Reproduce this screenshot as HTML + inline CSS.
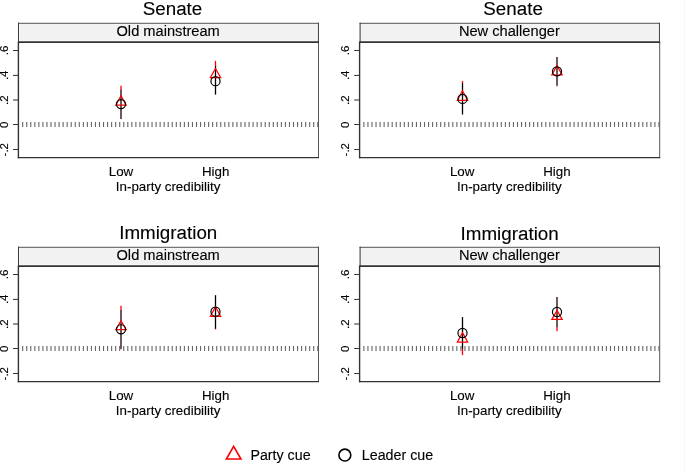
<!DOCTYPE html>
<html><head><meta charset="utf-8"><title>Party cue vs Leader cue</title>
<style>
html,body{margin:0;padding:0;background:#fff;width:685px;height:472px;overflow:hidden}
svg{display:block}
text{font-family:"Liberation Sans", Arial, Helvetica, sans-serif;fill:#000;stroke:#000;stroke-width:0.12px}
.ttl{font-size:18.8px;text-anchor:middle;fill:#000}
.strip{font-size:14.65px;text-anchor:middle}
.xl{font-size:13.35px;text-anchor:middle}
.yl{font-size:11.5px;text-anchor:middle}
.lg{font-size:14.25px}
</style></head><body>
<svg width="685" height="472" viewBox="0 0 685 472">
<rect width="685" height="472" fill="#fff"/>
<rect x="684" y="0" width="1" height="472" fill="#f8f8f8"/>
<text x="172.5" y="14.8" class="ttl">Senate</text>
<rect x="19.4" y="24.2" width="298.15" height="16.5" fill="#f2f2f2"/>
<line x1="18" y1="23.25" x2="318.95" y2="23.25" stroke="#747474" stroke-width="1.25"/>
<line x1="18.5" y1="22.65" x2="18.5" y2="42" stroke="#3a3a3a" stroke-width="1.05"/>
<line x1="318.45" y1="22.65" x2="318.45" y2="42" stroke="#444" stroke-width="1.05"/>
<text x="168.15" y="36.3" class="strip">Old mainstream</text>
<line x1="318.5" y1="42" x2="318.5" y2="157.7" stroke="#555" stroke-width="1"/>
<line x1="17.9" y1="42.15" x2="319" y2="42.15" stroke="#333" stroke-width="1.6"/>
<line x1="17.8" y1="157.7" x2="319" y2="157.7" stroke="#333" stroke-width="1.3"/>
<line x1="18.4" y1="42" x2="18.4" y2="158.3" stroke="#333" stroke-width="1.4"/>
<line x1="13" y1="50.5" x2="18.4" y2="50.5" stroke="#333" stroke-width="1.05"/>
<text transform="translate(7.95,50.5) rotate(-90)" class="yl">.6</text>
<line x1="13" y1="75.4" x2="18.4" y2="75.4" stroke="#333" stroke-width="1.05"/>
<text transform="translate(7.95,75.3) rotate(-90)" class="yl">.4</text>
<line x1="13" y1="100" x2="18.4" y2="100" stroke="#333" stroke-width="1.05"/>
<text transform="translate(7.95,100.1) rotate(-90)" class="yl">.2</text>
<line x1="13" y1="124.5" x2="18.4" y2="124.5" stroke="#333" stroke-width="1.05"/>
<text transform="translate(7.95,124.9) rotate(-90)" class="yl">0</text>
<line x1="13" y1="149.5" x2="18.4" y2="149.5" stroke="#333" stroke-width="1.05"/>
<text transform="translate(7.95,149.7) rotate(-90)" class="yl">-.2</text>
<path d="M22.7 122v5M26.74 122v5M30.78 122v5M34.83 122v5M38.87 122v5M42.91 122v5M46.95 122v5M50.99 122v5M55.04 122v5M59.08 122v5M63.12 122v5M67.16 122v5M71.2 122v5M75.25 122v5M79.29 122v5M83.33 122v5M87.37 122v5M91.41 122v5M95.46 122v5M99.5 122v5M103.54 122v5M107.58 122v5M111.62 122v5M115.67 122v5M119.71 122v5M123.75 122v5M127.79 122v5M131.83 122v5M135.88 122v5M139.92 122v5M143.96 122v5M148 122v5M152.04 122v5M156.09 122v5M160.13 122v5M164.17 122v5M168.21 122v5M172.25 122v5M176.3 122v5M180.34 122v5M184.38 122v5M188.42 122v5M192.46 122v5M196.51 122v5M200.55 122v5M204.59 122v5M208.63 122v5M212.67 122v5M216.72 122v5M220.76 122v5M224.8 122v5M228.84 122v5M232.88 122v5M236.93 122v5M240.97 122v5M245.01 122v5M249.05 122v5M253.09 122v5M257.14 122v5M261.18 122v5M265.22 122v5M269.26 122v5M273.3 122v5M277.35 122v5M281.39 122v5M285.43 122v5M289.47 122v5M293.51 122v5M297.56 122v5M301.6 122v5M305.64 122v5M309.68 122v5M313.72 122v5M317.77 122v5" stroke="#666" stroke-width="1.1" fill="none"/>
<text x="121" y="176.2" class="xl">Low</text>
<text x="215.7" y="176.2" class="xl">High</text>
<text x="168.1" y="190.5" class="xl">In-party credibility</text>
<text x="513.1" y="15.2" class="ttl">Senate</text>
<rect x="361" y="24.2" width="297.55" height="16.5" fill="#f2f2f2"/>
<line x1="359.6" y1="23.25" x2="659.95" y2="23.25" stroke="#747474" stroke-width="1.25"/>
<line x1="360.1" y1="22.65" x2="360.1" y2="42" stroke="#3a3a3a" stroke-width="1.05"/>
<line x1="659.45" y1="22.65" x2="659.45" y2="42" stroke="#444" stroke-width="1.05"/>
<text x="509.35" y="36.3" class="strip">New challenger</text>
<line x1="659.7" y1="42" x2="659.7" y2="157.7" stroke="#555" stroke-width="1"/>
<line x1="359.1" y1="42.15" x2="660.2" y2="42.15" stroke="#333" stroke-width="1.6"/>
<line x1="359" y1="157.7" x2="660.2" y2="157.7" stroke="#333" stroke-width="1.3"/>
<line x1="359.6" y1="42" x2="359.6" y2="158.3" stroke="#333" stroke-width="1.4"/>
<line x1="354.2" y1="50.5" x2="359.6" y2="50.5" stroke="#333" stroke-width="1.05"/>
<text transform="translate(349.15,50.5) rotate(-90)" class="yl">.6</text>
<line x1="354.2" y1="75.4" x2="359.6" y2="75.4" stroke="#333" stroke-width="1.05"/>
<text transform="translate(349.15,75.3) rotate(-90)" class="yl">.4</text>
<line x1="354.2" y1="100" x2="359.6" y2="100" stroke="#333" stroke-width="1.05"/>
<text transform="translate(349.15,100.1) rotate(-90)" class="yl">.2</text>
<line x1="354.2" y1="124.5" x2="359.6" y2="124.5" stroke="#333" stroke-width="1.05"/>
<text transform="translate(349.15,124.9) rotate(-90)" class="yl">0</text>
<line x1="354.2" y1="149.5" x2="359.6" y2="149.5" stroke="#333" stroke-width="1.05"/>
<text transform="translate(349.15,149.7) rotate(-90)" class="yl">-.2</text>
<path d="M363.9 122v5M367.94 122v5M371.98 122v5M376.03 122v5M380.07 122v5M384.11 122v5M388.15 122v5M392.19 122v5M396.24 122v5M400.28 122v5M404.32 122v5M408.36 122v5M412.4 122v5M416.45 122v5M420.49 122v5M424.53 122v5M428.57 122v5M432.61 122v5M436.66 122v5M440.7 122v5M444.74 122v5M448.78 122v5M452.82 122v5M456.87 122v5M460.91 122v5M464.95 122v5M468.99 122v5M473.03 122v5M477.08 122v5M481.12 122v5M485.16 122v5M489.2 122v5M493.24 122v5M497.29 122v5M501.33 122v5M505.37 122v5M509.41 122v5M513.45 122v5M517.5 122v5M521.54 122v5M525.58 122v5M529.62 122v5M533.66 122v5M537.71 122v5M541.75 122v5M545.79 122v5M549.83 122v5M553.87 122v5M557.92 122v5M561.96 122v5M566 122v5M570.04 122v5M574.08 122v5M578.13 122v5M582.17 122v5M586.21 122v5M590.25 122v5M594.29 122v5M598.34 122v5M602.38 122v5M606.42 122v5M610.46 122v5M614.5 122v5M618.55 122v5M622.59 122v5M626.63 122v5M630.67 122v5M634.71 122v5M638.76 122v5M642.8 122v5M646.84 122v5M650.88 122v5M654.92 122v5M658.97 122v5" stroke="#666" stroke-width="1.1" fill="none"/>
<text x="462.2" y="176.2" class="xl">Low</text>
<text x="556.9" y="176.2" class="xl">High</text>
<text x="509.3" y="190.5" class="xl">In-party credibility</text>
<text x="168.25" y="239" class="ttl">Immigration</text>
<rect x="19.4" y="248.2" width="298.15" height="16.5" fill="#f2f2f2"/>
<line x1="18" y1="247.25" x2="318.95" y2="247.25" stroke="#747474" stroke-width="1.25"/>
<line x1="18.5" y1="246.65" x2="18.5" y2="266" stroke="#3a3a3a" stroke-width="1.05"/>
<line x1="318.45" y1="246.65" x2="318.45" y2="266" stroke="#444" stroke-width="1.05"/>
<text x="168.15" y="260.3" class="strip">Old mainstream</text>
<line x1="318.5" y1="266" x2="318.5" y2="381.7" stroke="#555" stroke-width="1"/>
<line x1="17.9" y1="266.15" x2="319" y2="266.15" stroke="#333" stroke-width="1.6"/>
<line x1="17.8" y1="381.7" x2="319" y2="381.7" stroke="#333" stroke-width="1.3"/>
<line x1="18.4" y1="266" x2="18.4" y2="382.3" stroke="#333" stroke-width="1.4"/>
<line x1="13" y1="274.5" x2="18.4" y2="274.5" stroke="#333" stroke-width="1.05"/>
<text transform="translate(7.95,274.5) rotate(-90)" class="yl">.6</text>
<line x1="13" y1="299.4" x2="18.4" y2="299.4" stroke="#333" stroke-width="1.05"/>
<text transform="translate(7.95,299.3) rotate(-90)" class="yl">.4</text>
<line x1="13" y1="324" x2="18.4" y2="324" stroke="#333" stroke-width="1.05"/>
<text transform="translate(7.95,324.1) rotate(-90)" class="yl">.2</text>
<line x1="13" y1="348.5" x2="18.4" y2="348.5" stroke="#333" stroke-width="1.05"/>
<text transform="translate(7.95,348.9) rotate(-90)" class="yl">0</text>
<line x1="13" y1="373.5" x2="18.4" y2="373.5" stroke="#333" stroke-width="1.05"/>
<text transform="translate(7.95,373.7) rotate(-90)" class="yl">-.2</text>
<path d="M22.7 346v5M26.74 346v5M30.78 346v5M34.83 346v5M38.87 346v5M42.91 346v5M46.95 346v5M50.99 346v5M55.04 346v5M59.08 346v5M63.12 346v5M67.16 346v5M71.2 346v5M75.25 346v5M79.29 346v5M83.33 346v5M87.37 346v5M91.41 346v5M95.46 346v5M99.5 346v5M103.54 346v5M107.58 346v5M111.62 346v5M115.67 346v5M119.71 346v5M123.75 346v5M127.79 346v5M131.83 346v5M135.88 346v5M139.92 346v5M143.96 346v5M148 346v5M152.04 346v5M156.09 346v5M160.13 346v5M164.17 346v5M168.21 346v5M172.25 346v5M176.3 346v5M180.34 346v5M184.38 346v5M188.42 346v5M192.46 346v5M196.51 346v5M200.55 346v5M204.59 346v5M208.63 346v5M212.67 346v5M216.72 346v5M220.76 346v5M224.8 346v5M228.84 346v5M232.88 346v5M236.93 346v5M240.97 346v5M245.01 346v5M249.05 346v5M253.09 346v5M257.14 346v5M261.18 346v5M265.22 346v5M269.26 346v5M273.3 346v5M277.35 346v5M281.39 346v5M285.43 346v5M289.47 346v5M293.51 346v5M297.56 346v5M301.6 346v5M305.64 346v5M309.68 346v5M313.72 346v5M317.77 346v5" stroke="#666" stroke-width="1.1" fill="none"/>
<text x="121" y="400.2" class="xl">Low</text>
<text x="215.7" y="400.2" class="xl">High</text>
<text x="168.1" y="414.5" class="xl">In-party credibility</text>
<text x="509.65" y="240" class="ttl">Immigration</text>
<rect x="361" y="248.2" width="297.55" height="16.5" fill="#f2f2f2"/>
<line x1="359.6" y1="247.25" x2="659.95" y2="247.25" stroke="#747474" stroke-width="1.25"/>
<line x1="360.1" y1="246.65" x2="360.1" y2="266" stroke="#3a3a3a" stroke-width="1.05"/>
<line x1="659.45" y1="246.65" x2="659.45" y2="266" stroke="#444" stroke-width="1.05"/>
<text x="509.35" y="260.3" class="strip">New challenger</text>
<line x1="659.7" y1="266" x2="659.7" y2="381.7" stroke="#555" stroke-width="1"/>
<line x1="359.1" y1="266.15" x2="660.2" y2="266.15" stroke="#333" stroke-width="1.6"/>
<line x1="359" y1="381.7" x2="660.2" y2="381.7" stroke="#333" stroke-width="1.3"/>
<line x1="359.6" y1="266" x2="359.6" y2="382.3" stroke="#333" stroke-width="1.4"/>
<line x1="354.2" y1="274.5" x2="359.6" y2="274.5" stroke="#333" stroke-width="1.05"/>
<text transform="translate(349.15,274.5) rotate(-90)" class="yl">.6</text>
<line x1="354.2" y1="299.4" x2="359.6" y2="299.4" stroke="#333" stroke-width="1.05"/>
<text transform="translate(349.15,299.3) rotate(-90)" class="yl">.4</text>
<line x1="354.2" y1="324" x2="359.6" y2="324" stroke="#333" stroke-width="1.05"/>
<text transform="translate(349.15,324.1) rotate(-90)" class="yl">.2</text>
<line x1="354.2" y1="348.5" x2="359.6" y2="348.5" stroke="#333" stroke-width="1.05"/>
<text transform="translate(349.15,348.9) rotate(-90)" class="yl">0</text>
<line x1="354.2" y1="373.5" x2="359.6" y2="373.5" stroke="#333" stroke-width="1.05"/>
<text transform="translate(349.15,373.7) rotate(-90)" class="yl">-.2</text>
<path d="M363.9 346v5M367.94 346v5M371.98 346v5M376.03 346v5M380.07 346v5M384.11 346v5M388.15 346v5M392.19 346v5M396.24 346v5M400.28 346v5M404.32 346v5M408.36 346v5M412.4 346v5M416.45 346v5M420.49 346v5M424.53 346v5M428.57 346v5M432.61 346v5M436.66 346v5M440.7 346v5M444.74 346v5M448.78 346v5M452.82 346v5M456.87 346v5M460.91 346v5M464.95 346v5M468.99 346v5M473.03 346v5M477.08 346v5M481.12 346v5M485.16 346v5M489.2 346v5M493.24 346v5M497.29 346v5M501.33 346v5M505.37 346v5M509.41 346v5M513.45 346v5M517.5 346v5M521.54 346v5M525.58 346v5M529.62 346v5M533.66 346v5M537.71 346v5M541.75 346v5M545.79 346v5M549.83 346v5M553.87 346v5M557.92 346v5M561.96 346v5M566 346v5M570.04 346v5M574.08 346v5M578.13 346v5M582.17 346v5M586.21 346v5M590.25 346v5M594.29 346v5M598.34 346v5M602.38 346v5M606.42 346v5M610.46 346v5M614.5 346v5M618.55 346v5M622.59 346v5M626.63 346v5M630.67 346v5M634.71 346v5M638.76 346v5M642.8 346v5M646.84 346v5M650.88 346v5M654.92 346v5M658.97 346v5" stroke="#666" stroke-width="1.1" fill="none"/>
<text x="462.2" y="400.2" class="xl">Low</text>
<text x="556.9" y="400.2" class="xl">High</text>
<text x="509.3" y="414.5" class="xl">In-party credibility</text>
<line x1="121" y1="85.8" x2="121" y2="90" stroke="#f00" stroke-width="1.3"/>
<line x1="121" y1="89.7" x2="121" y2="118.9" stroke="#685050" stroke-width="1.9"/>
<line x1="215.5" y1="60.9" x2="215.5" y2="66.4" stroke="#f00" stroke-width="1.3"/>
<line x1="215.5" y1="66.1" x2="215.5" y2="94.6" stroke="#000" stroke-width="1.3"/>
<line x1="462.5" y1="81.1" x2="462.5" y2="83.5" stroke="#f00" stroke-width="1.3"/>
<line x1="462.5" y1="83.2" x2="462.5" y2="114.5" stroke="#000" stroke-width="1.3"/>
<line x1="557" y1="85.5" x2="557" y2="86.2" stroke="#f00" stroke-width="1.3"/>
<line x1="557" y1="56.9" x2="557" y2="85.8" stroke="#685050" stroke-width="1.9"/>
<line x1="121" y1="305.8" x2="121" y2="310.3" stroke="#f00" stroke-width="1.3"/>
<line x1="121" y1="310" x2="121" y2="348.9" stroke="#685050" stroke-width="1.9"/>
<line x1="215.5" y1="328.5" x2="215.5" y2="329.4" stroke="#f00" stroke-width="1.3"/>
<line x1="215.5" y1="295.2" x2="215.5" y2="328.8" stroke="#000" stroke-width="1.3"/>
<line x1="462.5" y1="348.5" x2="462.5" y2="355.1" stroke="#f00" stroke-width="1.3"/>
<line x1="462.5" y1="317.1" x2="462.5" y2="348.8" stroke="#000" stroke-width="1.3"/>
<line x1="557" y1="326.6" x2="557" y2="331.3" stroke="#f00" stroke-width="1.3"/>
<line x1="557" y1="297.1" x2="557" y2="326.9" stroke="#685050" stroke-width="1.9"/>
<path d="M121 95.8L126.2 105.2L115.8 105.2Z" fill="none" stroke="#f00" stroke-width="1.2" stroke-linejoin="miter"/>
<circle cx="121" cy="104.1" r="4.55" fill="none" stroke="#000" stroke-width="1.2"/>
<path d="M215.5 68.5L220.7 77.7L210.3 77.7Z" fill="none" stroke="#f00" stroke-width="1.2" stroke-linejoin="miter"/>
<circle cx="215.5" cy="81.2" r="4.55" fill="none" stroke="#000" stroke-width="1.2"/>
<path d="M462.5 90.7L467.7 100.4L457.3 100.4Z" fill="none" stroke="#f00" stroke-width="1.2" stroke-linejoin="miter"/>
<circle cx="462.5" cy="98.9" r="4.55" fill="none" stroke="#000" stroke-width="1.2"/>
<path d="M557 65.6L562.2 75L551.8 75Z" fill="none" stroke="#f00" stroke-width="1.2" stroke-linejoin="miter"/>
<circle cx="557" cy="71.35" r="4.55" fill="none" stroke="#000" stroke-width="1.2"/>
<path d="M121 320.8L126.2 329.7L115.8 329.7Z" fill="none" stroke="#f00" stroke-width="1.2" stroke-linejoin="miter"/>
<circle cx="121" cy="329.3" r="4.55" fill="none" stroke="#000" stroke-width="1.2"/>
<path d="M215.5 306.8L220.7 316.4L210.3 316.4Z" fill="none" stroke="#f00" stroke-width="1.2" stroke-linejoin="miter"/>
<circle cx="215.5" cy="311.7" r="4.55" fill="none" stroke="#000" stroke-width="1.2"/>
<path d="M462.5 332.6L467.7 342.2L457.3 342.2Z" fill="none" stroke="#f00" stroke-width="1.2" stroke-linejoin="miter"/>
<circle cx="462.5" cy="333" r="4.55" fill="none" stroke="#000" stroke-width="1.2"/>
<path d="M557 310.4L562.2 319.4L551.8 319.4Z" fill="none" stroke="#f00" stroke-width="1.2" stroke-linejoin="miter"/>
<circle cx="557" cy="312" r="4.55" fill="none" stroke="#000" stroke-width="1.2"/>
<path d="M233.65 446.3L240.95 459L226.35 459Z" fill="none" stroke="#f00" stroke-width="1.6" stroke-linejoin="miter"/>
<circle cx="344.85" cy="455.05" r="5.95" fill="none" stroke="#000" stroke-width="1.6"/>
<text x="250.4" y="459.9" class="lg">Party cue</text>
<text x="361.85" y="459.9" class="lg">Leader cue</text>
</svg>
</body></html>
